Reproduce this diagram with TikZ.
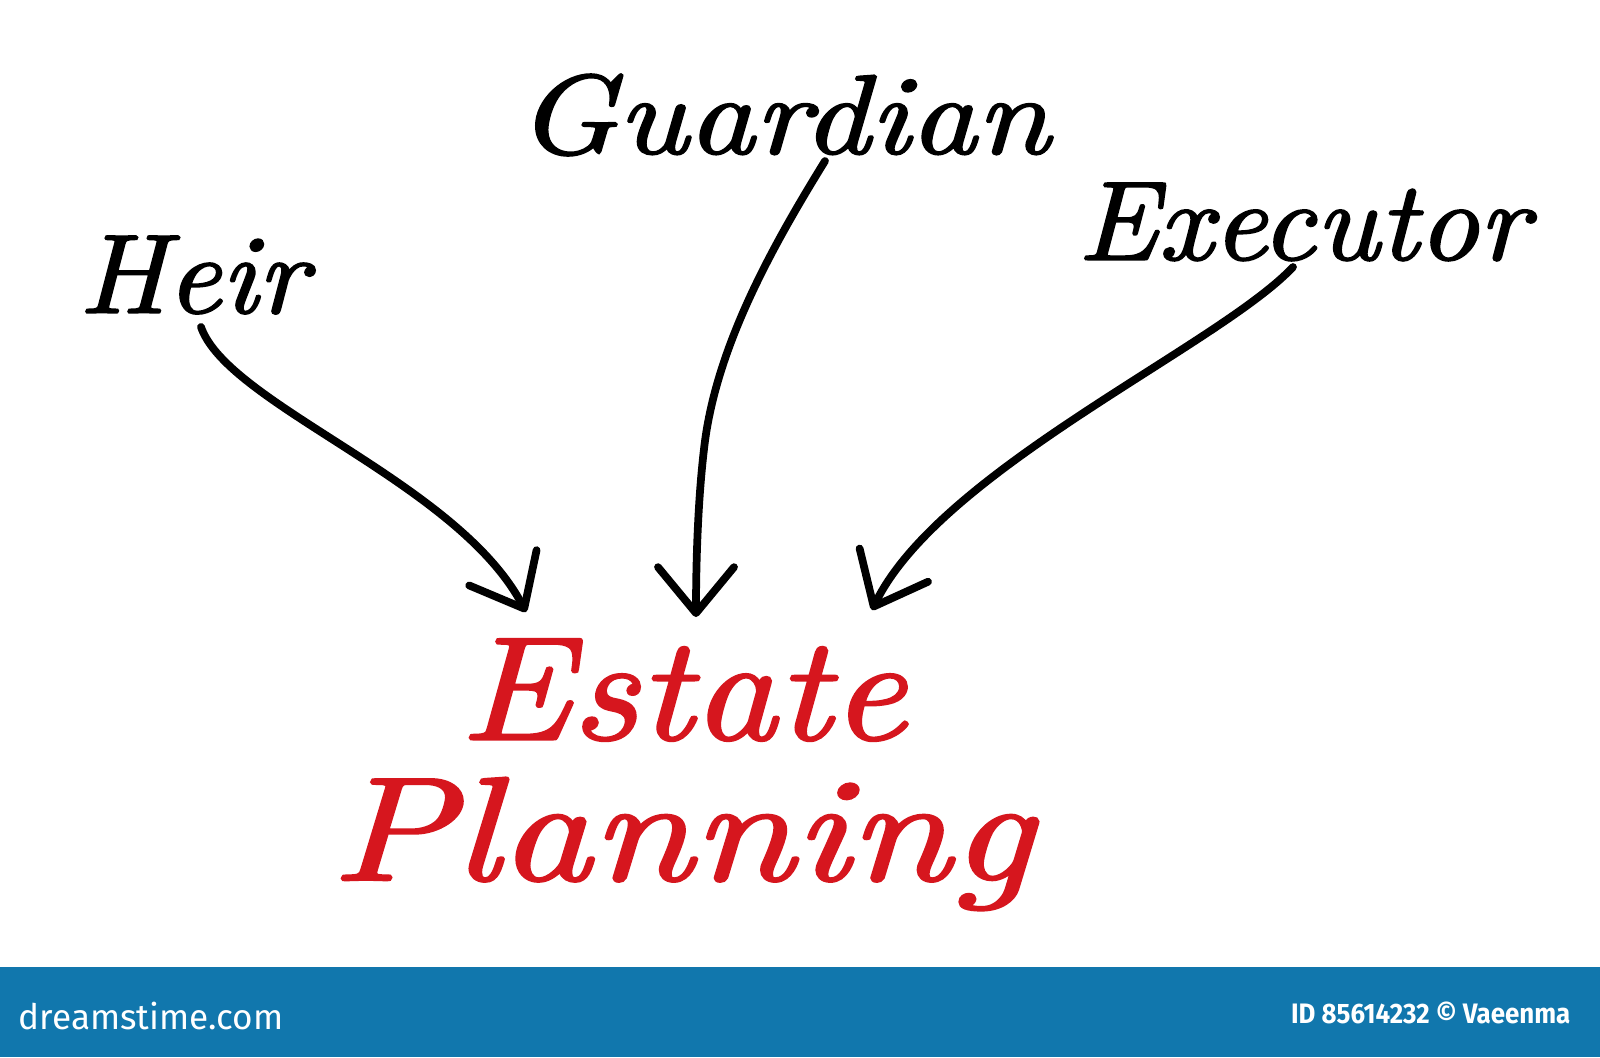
\documentclass[tikz,border=0pt]{standalone}
\usepackage{fontspec}
\newfontfamily\barfont{Fira Sans}
\newfontfamily\handfont{lmroman10-italic}[Extension=.otf, FakeBold=1.6]
\usetikzlibrary{arrows.meta}
\definecolor{inkred}{RGB}{214,22,30}
\definecolor{barblue}{RGB}{17,119,173}
\tikzset{
  blacklbl/.style={font=\handfont\fontsize{32}{38}\selectfont, text=black, inner sep=0pt},
  redlbl/.style={font=\handfont\fontsize{42}{50}\selectfont, text=inkred, inner sep=0pt},
  arr/.style={line width=2.2pt, line cap=round, line join=round,
    -{Straight Barb[length=4.6mm, width=7.6mm, round]}},
  bartxt/.style={text=white, inner sep=0pt}
}
\begin{document}
\begin{tikzpicture}[x=0.01cm, y=-0.01cm]
  \useasboundingbox (0,0) rectangle (1600,1057);
  \fill[white] (0,0) rectangle (1600,967);
  \fill[barblue] (0,967) rectangle (1600,1057);

  \node[blacklbl] (heir) at (193,275) {\scalebox{1.05}[1]{Heir}};
  \node[blacklbl] (guardian) at (783,115) {\scalebox{1.16}[1]{Guardian}};
  \node[blacklbl] (executor) at (1303,222) {\scalebox{1.05}[1]{Executor}};
  \node[redlbl] (estate) at (683,690) {\scalebox{1.11}[1]{Estate}};
  \node[redlbl] (planning) at (682,844) {\scalebox{1.22}[1]{Planning}};

  \coordinate (heirs) at (201,327);
  \coordinate (heirt) at (526,612);
  \coordinate (guards) at (825,161);
  \coordinate (guardt) at (696,617);
  \coordinate (execs) at (1293,267);
  \coordinate (exect) at (872,610);

  \draw[arr] (heirs) .. controls (228,405) and (458,482) .. (heirt);
  \draw[arr] (guards) .. controls (770,250) and (715,350) .. (704,449)
                      .. controls (698,500) and (696,560) .. (guardt);
  \draw[arr] (execs) .. controls (1220,345) and (940,470) .. (exect);

  \node[bartxt, font=\barfont\fontsize{10}{12}\selectfont, anchor=west] (logo) at (18,1016) {dreamstime.com};
  \node[bartxt, font=\barfont\bfseries\fontsize{8}{10}\selectfont, anchor=east] (credit) at (1571,1013) {\scalebox{0.92}[1]{ID 85614232 © Vaeenma}};
\end{tikzpicture}
\end{document}
